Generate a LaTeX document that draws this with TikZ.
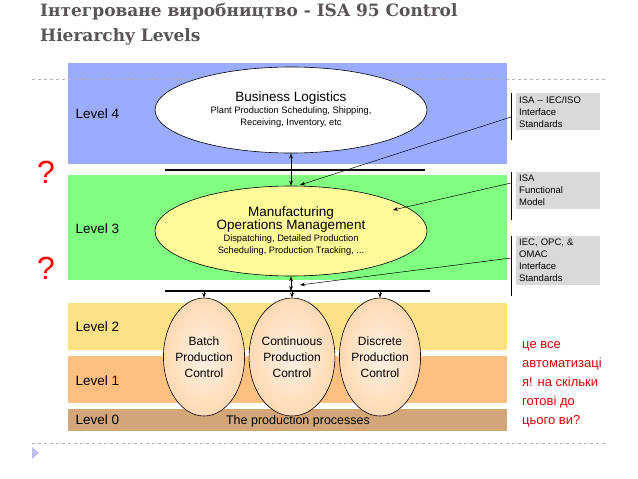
\documentclass[tikz,border=0pt]{standalone}
\usepackage{fontspec}
\usetikzlibrary{shapes.geometric,arrows.meta}
\setmainfont{Liberation Sans}
\newfontfamily\titlefont{DejaVu Serif}
\definecolor{lv4}{RGB}{155,172,255}
\definecolor{lv3}{RGB}{128,255,128}
\definecolor{ttl}{RGB}{90,84,84}
\begin{document}
\begin{tikzpicture}[x=1pt,y=-1pt,
 lvl/.style={anchor=west,font=\fontsize{13.5}{15}\selectfont},
 ell/.style={ellipse,draw,line width=0.6pt,inner sep=0pt,align=center},
 gbox/.style={fill=black!15,anchor=north west,align=left,font=\fontsize{9.5}{12}\selectfont,text width=78pt,inner sep=3pt},
 ptr/.style={-{Stealth[length=5pt]},line width=0.5pt},
 dbl/.style={{Stealth[length=5pt]}-{Stealth[length=5pt]},line width=0.9pt}]
\useasboundingbox (0,0) rectangle (638,479);
\fill[white] (0,0) rectangle (638,479);
\node[anchor=north west,text=ttl,font=\titlefont\bfseries\fontsize{17}{25}\selectfont,align=left,inner sep=0] (title) at (40,3) {Інтегроване виробництво - ISA 95 Control\\Hierarchy Levels};
\fill[lv4] (68,63) rectangle (507,164);
\fill[lv3] (68,175) rectangle (507,280);
\fill[yellow!55!orange!45] (68,303) rectangle (507,350);
\fill[orange!50!white] (68,356) rectangle (507,403);
\fill[brown!70!white] (68,409) rectangle (507,431);
\draw[dashed,black!30] (32,79) -- (608,79);
\draw[dashed,black!30] (32,443) -- (608,443);
\fill[black!30!blue!25] (32,447) -- (39,453) -- (32,459) -- cycle;
\node[lvl] (l4) at (72,114) {Level 4};
\node[lvl] (l3) at (72,229) {Level 3};
\node[lvl] (l2) at (72,327) {Level 2};
\node[lvl] (l1) at (72,381) {Level 1};
\node[lvl] (l0) at (72,420) {Level 0};
\node[font=\fontsize{12.5}{14}\selectfont] (pp) at (298,421) {The production processes};
\node[text=red,font=\fontsize{32}{34}\selectfont] (q1) at (46,172) {?};
\node[text=red,font=\fontsize{32}{34}\selectfont] (q2) at (46,268) {?};
\node[ell,fill=white,minimum width=272pt,minimum height=86pt] (bl) at (291,110) {{\fontsize{13.5}{16}\selectfont Business Logistics}\\{\fontsize{9.3}{15}\selectfont Plant Production Scheduling, Shipping,}\\{\fontsize{9.3}{15}\selectfont Receiving, Inventory, etc}};
\node[ell,fill=yellow!40,minimum width=272pt,minimum height=90pt] (mom) at (291,231) {{\fontsize{13.5}{16}\selectfont Manufacturing}\\{\fontsize{13.5}{16}\selectfont Operations Management}\\{\fontsize{9.3}{15}\selectfont Dispatching, Detailed Production}\\{\fontsize{9.3}{15}\selectfont Scheduling, Production Tracking, ...}};
\foreach \n/\x/\t in {b/204/Batch,c/292/Continuous,d/380/Discrete}{
 \node[ell,inner color=orange!10,outer color=orange!30,minimum width=78pt,minimum height=118pt,font=\fontsize{12}{16}\selectfont] (\n) at (\x,357) {\t\\Production\\Control};}
\draw[line width=1.2pt] (165,170) coordinate (bus1a) -- (425,170) coordinate (bus1b);
\draw[line width=1.2pt] (165,291) coordinate (bus2a) -- (430,291) coordinate (bus2b);
\draw[dbl] (bl.south) -- (mom.north);
\draw[dbl] (mom.south) -- (291,291);
\foreach \n/\x in {b/204,c/292,d/380}{\draw[-{Stealth[length=5pt]},line width=0.9pt] (\x,291) -- (\n.north);}
\node[gbox] (g1) at (516,93) {ISA -- IEC/ISO\\Interface\\Standards};
\node[gbox] (g2) at (516,172) {ISA\\Functional\\Model};
\node[gbox] (g3) at (516,236) {IEC, OPC, \&\\OMAC\\Interface\\Standards};
\draw (511,93) -- (511,140);
\draw (511,172) -- (511,220);
\draw (511,236) -- (511,296);
\coordinate (p1) at (511,117); \coordinate (p2) at (511,183); \coordinate (p3) at (511,258);
\draw[ptr] (p1) -- (300,185);
\draw[ptr] (p2) -- (393,210);
\draw[ptr] (p3) -- (300,285);
\node[anchor=north west,text=red!85!black,align=left,font=\fontsize{13}{19}\selectfont,inner sep=0] (ua) at (522,341) {це все\\автоматизаці\\я! на скільки\\готові до\\цього ви?};
\end{tikzpicture}
\end{document}
